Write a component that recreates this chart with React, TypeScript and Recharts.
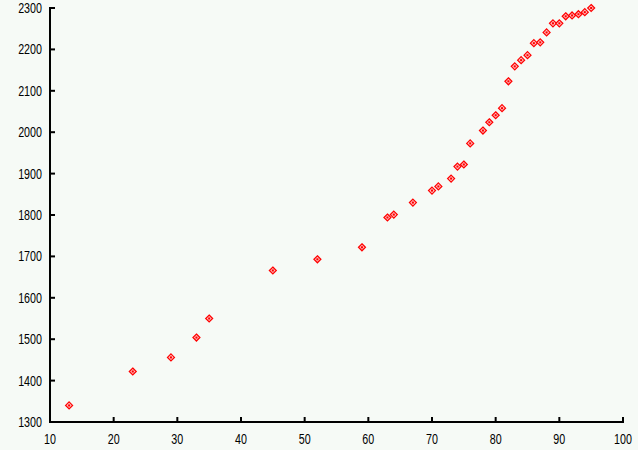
import { Scatter, ScatterChart, XAxis, YAxis } from "recharts";

// values
const xValues = [
  13, 23, 29, 33, 35, 45, 52, 59, 63, 64, 67, 70, 71, 73, 74, 75, 76, 78, 79, 80,
  81, 82, 83, 84, 85, 86, 87, 88, 89, 90, 91, 92, 93, 94, 95,
];
const yValues = [
  1340, 1422, 1456, 1504, 1550, 1666, 1693, 1722, 1794, 1801, 1830, 1859, 1869,
  1888, 1917, 1922, 1973, 2004, 2024, 2041, 2058, 2123, 2159, 2174, 2186, 2215,
  2217, 2241, 2263, 2263, 2280, 2282, 2285, 2290, 2300,
];
const xTicks = [10, 20, 30, 40, 50, 60, 70, 80, 90, 100];
const yTicks = [1300, 1400, 1500, 1600, 1700, 1800, 1900, 2000, 2100, 2200, 2300];

const points = xValues.map((x, i) => ({ x, y: yValues[i] }));

const FONT = "'Liberation Sans', sans-serif";
const BORDER = { stroke: "#000", strokeWidth: 2, strokeLinecap: "square" as const };

function Diamond(props: any) {
  const { cx, cy } = props;
  if (cx == null || cy == null) return null;
  const r = 3.5;
  return (
    <g>
      <polygon
        points={`${cx},${cy - r} ${cx + r},${cy} ${cx},${cy + r} ${cx - r},${cy}`}
        fill="#ffbcbc"
        stroke="#ff0000"
        strokeWidth={1.2}
      />
      <rect x={cx - 1} y={cy - 1} width={2} height={2} fill="#ff0000" />
    </g>
  );
}

// gnuplot's label font is narrow, so squeeze the glyphs horizontally
function Label({ x, y, anchor, value }: { x: number; y: number; anchor: "middle" | "end"; value: any }) {
  return (
    <text
      transform={`translate(${x},${y}) scale(0.74,1)`}
      textAnchor={anchor}
      fontSize={14.5}
      fontFamily={FONT}
      fill="#000"
    >
      {value}
    </text>
  );
}

function BottomTick(props: any) {
  const { x, y, payload } = props;
  return (
    <g>
      <line x1={x} y1={y} x2={x} y2={y - 5} stroke="#000" strokeWidth={2} />
      <Label x={x} y={y + 22} anchor="middle" value={payload.value} />
    </g>
  );
}

function TopTick(props: any) {
  const { x, y } = props;
  return <line x1={x} y1={y} x2={x} y2={y + 5} stroke="#000" strokeWidth={2} />;
}

function LeftTick(props: any) {
  const { x, y, payload } = props;
  return (
    <g>
      <line x1={x} y1={y} x2={x + 5} y2={y} stroke="#000" strokeWidth={2} />
      <Label x={x - 8} y={y + 5} anchor="end" value={payload.value} />
    </g>
  );
}

function RightTick(props: any) {
  const { x, y } = props;
  return <line x1={x} y1={y} x2={x - 5} y2={y} stroke="#000" strokeWidth={2} />;
}

export default function App() {
  return (
    <div style={{ position: "absolute", left: 0, top: 0, width: 638, height: 450, background: "#f6faf6" }}>
      <ScatterChart width={638} height={450} margin={{ top: 8, right: 15, left: 0, bottom: 0 }}>
        <XAxis
          xAxisId="b"
          type="number"
          dataKey="x"
          domain={[10, 100]}
          ticks={xTicks}
          height={28}
          tickSize={0}
          tickMargin={0}
          tickLine={false}
          axisLine={BORDER}
          tick={<BottomTick />}
          interval={0}
        />
        <XAxis
          xAxisId="t"
          orientation="top"
          type="number"
          dataKey="x"
          domain={[10, 100]}
          ticks={xTicks}
          height={0}
          tickSize={0}
          tickMargin={0}
          tickLine={false}
          axisLine={BORDER}
          tick={<TopTick />}
          interval={0}
        />
        <YAxis
          yAxisId="l"
          type="number"
          dataKey="y"
          domain={[1300, 2300]}
          ticks={yTicks}
          width={50}
          tickSize={0}
          tickMargin={0}
          tickLine={false}
          axisLine={BORDER}
          tick={<LeftTick />}
          interval={0}
        />
        <YAxis
          yAxisId="r"
          orientation="right"
          type="number"
          dataKey="y"
          domain={[1300, 2300]}
          ticks={yTicks}
          width={0}
          tickSize={0}
          tickMargin={0}
          tickLine={false}
          axisLine={BORDER}
          tick={<RightTick />}
          interval={0}
        />
        <Scatter
          xAxisId="b"
          yAxisId="l"
          data={points}
          shape={<Diamond />}
          isAnimationActive={false}
        />
      </ScatterChart>
    </div>
  );
}
